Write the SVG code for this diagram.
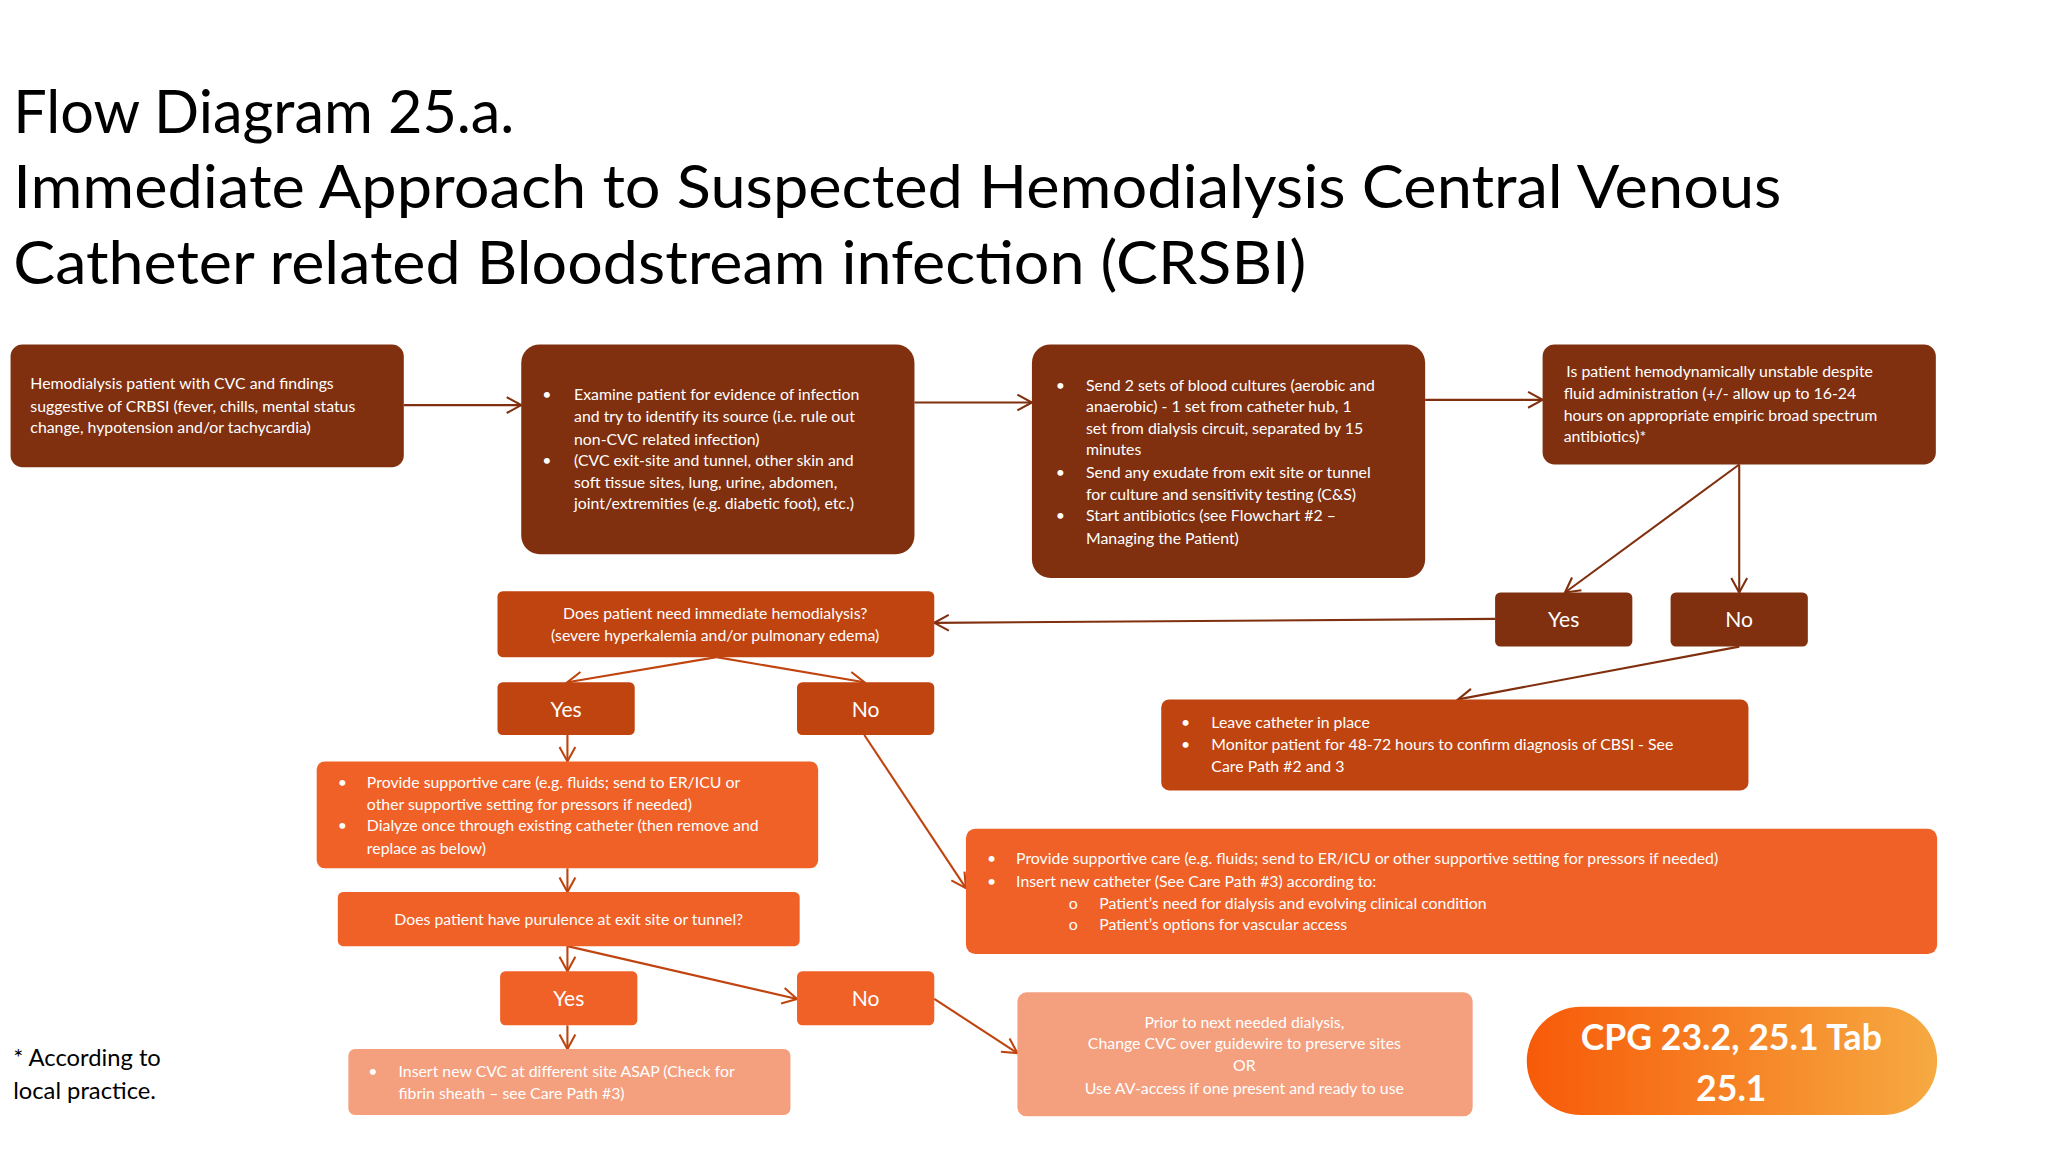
<svg xmlns="http://www.w3.org/2000/svg" width="2048" height="1152" viewBox="0 0 2048 1152">
<defs>
<style>
text{font-family:Lato,"Liberation Sans",sans-serif;fill:#fff;font-size:12px}
.t{fill:#000;font-size:45px}
.fn{fill:#000;font-size:18px}
.dk{fill:#80300f}.rs{fill:#c0440f}.or{fill:#ef6127}.lt{fill:#f4a07e}
.c{text-anchor:middle}
.yn{font-size:16px;text-anchor:middle}
.e1{stroke:#80300f;stroke-width:1.6;fill:none;marker-end:url(#m1)}
.e2{stroke:#c0440f;stroke-width:1.6;fill:none;marker-end:url(#m2)}
</style>
<marker id="m1" markerUnits="userSpaceOnUse" markerWidth="14" markerHeight="14" refX="12" refY="7" orient="auto"><path d="M1,1 L12,7 L1,13" fill="none" stroke="#80300f" stroke-width="1.6"/></marker>
<marker id="m2" markerUnits="userSpaceOnUse" markerWidth="14" markerHeight="14" refX="12" refY="7" orient="auto"><path d="M1,1 L12,7 L1,13" fill="none" stroke="#c0440f" stroke-width="1.6"/></marker>
<linearGradient id="g" x1="0" x2="1" y1="0" y2="0"><stop offset="0" stop-color="#f75a08"/><stop offset="1" stop-color="#f6aa42"/></linearGradient>
</defs>
<rect width="2048" height="1152" fill="#fff"/>
<g transform="scale(1.31959)">
<g id="title">
<text class="t" x="10" y="101">Flow Diagram 25.a.</text>
<text class="t" x="10" y="158" textLength="1340" lengthAdjust="spacingAndGlyphs">Immediate Approach to Suspected Hemodialysis Central Venous</text>
<text class="t" x="10" y="215" textLength="980" lengthAdjust="spacingAndGlyphs">Catheter related Bloodstream infection (CRSBI)</text>
</g>
<g id="connectors">
<line class="e1" x1="306" y1="307" x2="395" y2="307"/>
<line class="e1" x1="693" y1="305" x2="782" y2="305"/>
<line class="e1" x1="1080" y1="303" x2="1169" y2="303"/>
<line class="e1" x1="1318" y1="352" x2="1186" y2="449"/>
<line class="e1" x1="1318" y1="352" x2="1318" y2="449"/>
<line class="e1" x1="1133" y1="469" x2="708" y2="472"/>
<line class="e1" x1="1318" y1="490" x2="1105" y2="530"/>
<line class="e2" x1="543" y1="498" x2="430" y2="517"/>
<line class="e2" x1="543" y1="498" x2="655" y2="517"/>
<line class="e2" x1="430" y1="557" x2="430" y2="577"/>
<line class="e2" x1="655" y1="557" x2="732" y2="673"/>
<line class="e2" x1="430" y1="658" x2="430" y2="676"/>
<line class="e2" x1="430" y1="717" x2="430" y2="736"/>
<line class="e2" x1="430" y1="717" x2="604" y2="757"/>
<line class="e2" x1="430" y1="777" x2="430" y2="795"/>
<line class="e2" x1="708" y1="757" x2="771" y2="798"/>
</g>
<g id="n1"><rect class="dk" x="8" y="261" width="298" height="93" rx="9"/>
<text x="23" y="295">Hemodialysis patient with CVC and findings</text>
<text x="23" y="312">suggestive of CRBSI (fever, chills, mental status</text>
<text x="23" y="328">change, hypotension and/or tachycardia)</text></g>
<g id="n2"><rect class="dk" x="395" y="261" width="298" height="159" rx="14"/>
<text x="411" y="303">•</text><text x="435" y="303">Examine patient for evidence of  infection</text>
<text x="435" y="320">and try to identify its source (i.e. rule out</text>
<text x="435" y="337">non-CVC related infection)</text>
<text x="411" y="353">•</text><text x="435" y="353">(CVC exit-site and tunnel, other skin and</text>
<text x="435" y="370">soft tissue sites, lung, urine, abdomen,</text>
<text x="435" y="386">joint/extremities (e.g. diabetic foot), etc.)</text></g>
<g id="n3"><rect class="dk" x="782" y="261" width="298" height="177" rx="14"/>
<text x="800" y="296">•</text><text x="823" y="296">Send 2 sets of  blood cultures (aerobic and</text>
<text x="823" y="312">anaerobic) - 1 set  from catheter hub, 1</text>
<text x="823" y="329">set from dialysis circuit, separated by 15</text>
<text x="823" y="345">minutes</text>
<text x="800" y="362">•</text><text x="823" y="362">Send any exudate from exit site or tunnel</text>
<text x="823" y="379">for  culture and sensitivity testing (C&amp;S)</text>
<text x="800" y="395">•</text><text x="823" y="395">Start antibiotics (see Flowchart #2 –</text>
<text x="823" y="412">Managing the Patient)</text></g>
<g id="n4"><rect class="dk" x="1169" y="261" width="298" height="91" rx="9"/>
<text x="1187" y="286">Is patient hemodynamically unstable despite</text>
<text x="1185" y="302">fluid administration (+/- allow up to 16-24</text>
<text x="1185" y="319">hours on appropriate empiric broad spectrum</text>
<text x="1185" y="335">antibiotics)*</text></g>
<g id="yes1"><rect class="dk" x="1133" y="449" width="104" height="41" rx="4"/><text class="yn" x="1185" y="475">Yes</text></g>
<g id="no1"><rect class="dk" x="1266" y="449" width="104" height="41" rx="4"/><text class="yn" x="1318" y="475">No</text></g>
<g id="q1"><rect class="rs" x="377" y="448" width="331" height="50" rx="4"/>
<text class="c" x="542" y="469">Does patient need immediate hemodialysis?</text>
<text class="c" x="542" y="486">(severe hyperkalemia and/or pulmonary edema)</text></g>
<g id="yes2"><rect class="rs" x="377" y="517" width="104" height="40" rx="4"/><text class="yn" x="429" y="543">Yes</text></g>
<g id="no2"><rect class="rs" x="604" y="517" width="104" height="40" rx="4"/><text class="yn" x="656" y="543">No</text></g>
<g id="leave"><rect class="rs" x="880" y="530" width="445" height="69" rx="6"/>
<text x="895" y="552">•</text><text x="918" y="552">Leave catheter in place</text>
<text x="895" y="568">•</text><text x="918" y="568">Monitor patient for 48-72 hours to confirm diagnosis of CBSI - See</text>
<text x="918" y="585">Care Path #2 and 3</text></g>
<g id="supp1"><rect class="or" x="240" y="577" width="380" height="81" rx="6"/>
<text x="256" y="597">•</text><text x="278" y="597">Provide supportive care (e.g. fluids; send to ER/ICU or</text>
<text x="278" y="614">other supportive setting for pressors if needed)</text>
<text x="256" y="630">•</text><text x="278" y="630">Dialyze once through existing catheter (then remove and</text>
<text x="278" y="647">replace as below)</text></g>
<g id="supp2"><rect class="or" x="732" y="628" width="736" height="95" rx="7"/>
<text x="748" y="655">•</text><text x="770" y="655">Provide supportive care (e.g. fluids; send to ER/ICU or other supportive setting for pressors if needed)</text>
<text x="748" y="672">•</text><text x="770" y="672">Insert new catheter (See Care Path #3) according to:</text>
<text x="810" y="689">o</text><text x="833" y="689">Patient’s need for dialysis and evolving clinical condition</text>
<text x="810" y="705">o</text><text x="833" y="705">Patient’s options for vascular access</text></g>
<g id="q2"><rect class="or" x="256" y="676" width="350" height="41" rx="4"/>
<text class="c" x="431" y="701">Does patient have purulence at exit site or tunnel?</text></g>
<g id="yes3"><rect class="or" x="379" y="736" width="104" height="41" rx="4"/><text class="yn" x="431" y="762">Yes</text></g>
<g id="no3"><rect class="or" x="604" y="736" width="104" height="41" rx="4"/><text class="yn" x="656" y="762">No</text></g>
<g id="insert"><rect class="lt" x="264" y="795" width="335" height="50" rx="5"/>
<text x="279" y="816">•</text><text x="302" y="816">Insert new CVC at different site ASAP (Check for</text>
<text x="302" y="833">fibrin sheath – see Care Path #3)</text></g>
<g id="prior"><rect class="lt" x="771" y="752" width="345" height="94" rx="7"/>
<text class="c" x="943" y="779">Prior to next needed dialysis,</text>
<text class="c" x="943" y="795">Change CVC over guidewire to preserve sites</text>
<text class="c" x="943" y="812">OR</text>
<text class="c" x="943" y="829">Use AV-access if one present and ready to use</text></g>
<g id="cpg"><rect x="1157" y="763" width="311" height="82" rx="41" fill="url(#g)"/>
<text class="c" x="1312" y="796" style="font-size:27px;font-weight:bold">CPG 23.2, 25.1 Tab</text>
<text class="c" x="1312" y="834" style="font-size:27px;font-weight:bold">25.1</text></g>
<g id="foot"><text class="fn" x="10" y="808">* According to</text><text class="fn" x="10" y="833">local practice.</text></g>
</g>
</svg>
